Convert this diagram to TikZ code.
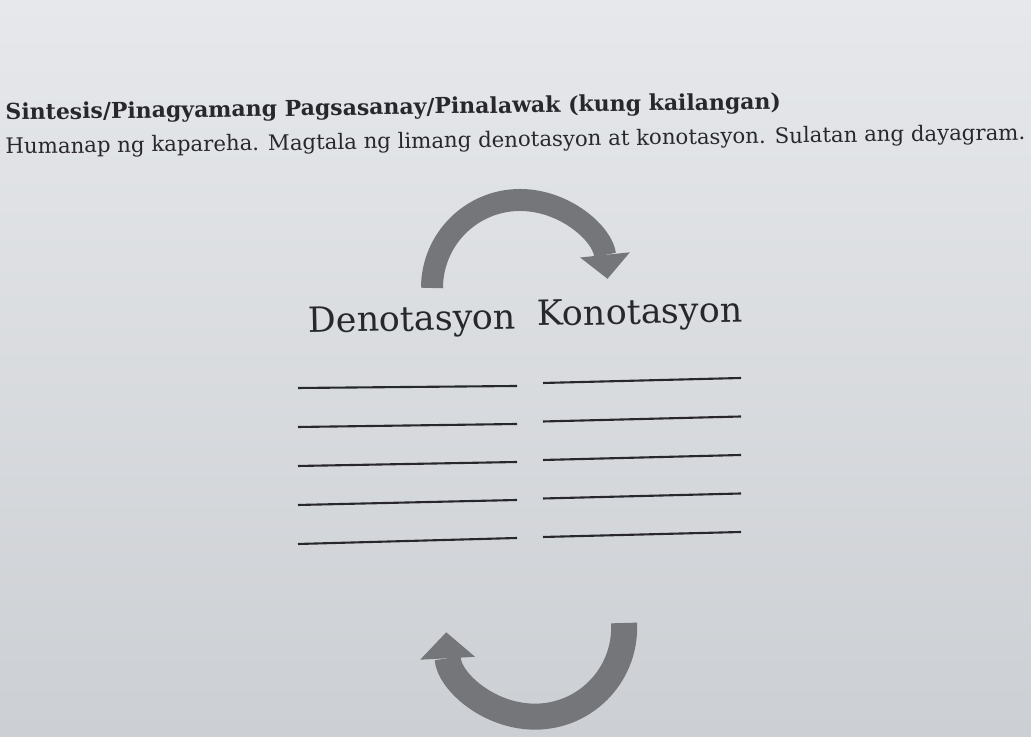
\documentclass[tikz,border=0pt]{standalone}
\usepackage{fontspec}
\setmainfont{DejaVu Serif}
\usepackage{tikz}
\usetikzlibrary{arrows.meta}
\definecolor{paperlight}{RGB}{230,232,235}
\definecolor{paperdark}{RGB}{204,207,211}
\definecolor{ink}{RGB}{40,40,44}
\definecolor{arrowgray}{RGB}{116,118,122}

\begin{document}
\begin{tikzpicture}[
   headline/.style={anchor=base west, inner sep=0pt, text=ink, rotate=0.8},
   colhead/.style={anchor=base west, inner sep=0pt, text=ink, rotate=1.2,
      font=\fontsize{9.9}{11}\selectfont},
   blank/.style={ink, line width=0.6pt},
   turn/.style={arrowgray, line width=#1}
 ]
   % paper
   \shade[top color=paperlight, bottom color=paperdark] (0,0) rectangle (10.31,7.37);
   \useasboundingbox (0,0) rectangle (10.31,7.37);

   \node[headline, font=\fontsize{6.25}{7}\selectfont\bfseries] (title) at (0.05,6.17)
      {Sintesis/Pinagyamang Pagsasanay/Pinalawak (kung kailangan)};
   \node[headline, font=\fontsize{6.05}{7}\selectfont] (task) at (0.05,5.83)
      {Humanap ng kapareha. Magtala ng limang denotasyon at konotasyon. Sulatan ang dayagram.};

   % top arrow
   \draw[turn=0.22cm, -{Triangle[width=0.50cm, length=0.24cm, line width=0pt]}]
      (4.32,4.49) arc[start angle=180, end angle=6, radius=0.88];

   \node[colhead] (deno) at (3.08,4.04) {Denotasyon};
   \node[colhead] (kono) at (5.37,4.11) {Konotasyon};

   % blanks
   \foreach \i in {0,...,4} {
     \draw[blank] (2.98,3.49-0.39*\i) -- (5.17,3.51-0.39*\i+0.01*\i);
     \draw[blank] (5.43,3.54-0.385*\i) -- (7.41,3.59-0.385*\i);
   }

   % bottom arrow
   \draw[turn=0.26cm, -{Triangle[width=0.55cm, length=0.26cm, line width=0pt]}]
      (6.24,1.14) arc[start angle=3, end angle=-177, radius=0.89];
\end{tikzpicture}
\end{document}
